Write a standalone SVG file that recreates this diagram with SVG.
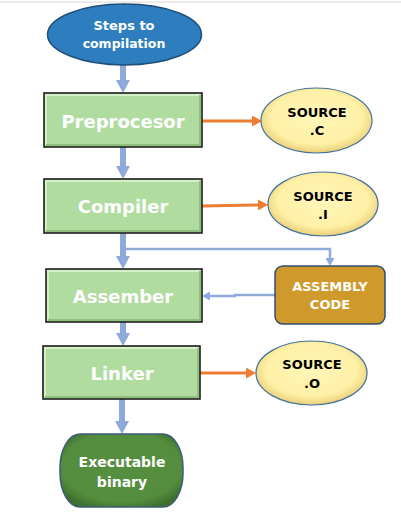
<svg xmlns="http://www.w3.org/2000/svg" width="401" height="526" viewBox="0 0 401 526">
<defs>
<style>
text{font-family:"DejaVu Sans","Verdana",sans-serif;font-weight:bold;text-anchor:middle}
.step{fill:#b0dca0;stroke:#1e1e1e;stroke-width:1.6}
.hi{fill:none;stroke:#d6f0ca;stroke-width:2}
.lo{fill:none;stroke:#8fc07e;stroke-width:2}
.src{fill:url(#yel);stroke:#41719c;stroke-width:1.2}
.wt{fill:#ffffff}
.bk{fill:#000000}
.thick{stroke:#8eaadb;stroke-width:6;fill:none}
.thin{stroke:#8eaadb;stroke-width:2.5;fill:none}
.org{stroke:#ed7d31;stroke-width:3;fill:none}
</style>
<radialGradient id="yel" cx="50%" cy="45%" r="55%">
<stop offset="0" stop-color="#fff6b8"/>
<stop offset="0.75" stop-color="#fff0a6"/>
<stop offset="1" stop-color="#e8cf78"/>
</radialGradient>
<radialGradient id="grn" cx="50%" cy="45%" r="60%">
<stop offset="0" stop-color="#558e3f"/>
<stop offset="0.8" stop-color="#548d3e"/>
<stop offset="1" stop-color="#3f7030"/>
</radialGradient>
<marker id="hb" markerUnits="userSpaceOnUse" markerWidth="14" markerHeight="14" viewBox="0 0 13 14" refX="0" refY="7" orient="auto"><path d="M0,0 L13,7 L0,14 z" fill="#8eaadb"/></marker>
<marker id="ht" markerUnits="userSpaceOnUse" markerWidth="8" markerHeight="9" viewBox="0 0 8 9" refX="0" refY="4.5" orient="auto"><path d="M0,0 L8,4.5 L0,9 z" fill="#8eaadb"/></marker>
<marker id="ho" markerUnits="userSpaceOnUse" markerWidth="10" markerHeight="11" viewBox="0 0 10 11" refX="0" refY="5.5" orient="auto"><path d="M0,0 L10,5.5 L0,11 z" fill="#ed7d31"/></marker>
</defs>
<rect width="401" height="526" fill="#ffffff"/>
<line x1="0" y1="2" x2="401" y2="2" stroke="#e4e4e4" stroke-width="1.5"/>

<g id="connectors">
<line class="thick" x1="123" y1="65" x2="123" y2="80" marker-end="url(#hb)"/>
<line class="thick" x1="123" y1="147" x2="123" y2="166" marker-end="url(#hb)"/>
<line class="thick" x1="123" y1="233" x2="123" y2="256" marker-end="url(#hb)"/>
<line class="thick" x1="123" y1="322" x2="123" y2="333" marker-end="url(#hb)"/>
<line class="thick" x1="122" y1="399" x2="122" y2="421" marker-end="url(#hb)"/>
<path class="thin" d="M123,249 H330 V258" marker-end="url(#ht)"/>
<path class="thin" d="M275,295 H235 V296 H210" marker-end="url(#ht)"/>
<line class="org" x1="202" y1="121" x2="252" y2="121" marker-end="url(#ho)"/>
<line class="org" x1="202" y1="206" x2="258" y2="205" marker-end="url(#ho)"/>
<line class="org" x1="200" y1="373" x2="246" y2="373" marker-end="url(#ho)"/>
</g>

<g id="start">
<ellipse cx="124.5" cy="34.5" rx="77" ry="30.5" fill="#2e7ebf" stroke="#1f4e79" stroke-width="1.5"/>
<text class="wt" x="124" y="30" font-size="13">Steps to</text>
<text class="wt" x="124" y="48" font-size="12.5">compilation</text>
</g>

<g id="preprocesor">
<rect class="step" x="44" y="93" width="158" height="54"/>
<path class="hi" d="M46,145 V95 H200"/>
<path class="lo" d="M200,95 V145 H46"/>
<text class="wt" x="123" y="128" font-size="18">Preprocesor</text>
</g>

<g id="compiler">
<rect class="step" x="44" y="179" width="158" height="54"/>
<path class="hi" d="M46,231 V181 H200"/>
<path class="lo" d="M200,181 V231 H46"/>
<text class="wt" x="123" y="213" font-size="18">Compiler</text>
</g>

<g id="assember">
<rect class="step" x="46" y="269" width="156" height="53"/>
<path class="hi" d="M48,320 V271 H200"/>
<path class="lo" d="M200,271 V320 H48"/>
<text class="wt" x="123" y="303" font-size="18">Assember</text>
</g>

<g id="linker">
<rect class="step" x="43" y="346" width="157" height="53"/>
<path class="hi" d="M45,397 V348 H198"/>
<path class="lo" d="M198,348 V397 H45"/>
<text class="wt" x="122" y="380" font-size="18">Linker</text>
</g>

<g id="executable">
<rect x="60" y="434" width="123" height="73" rx="20" ry="34" fill="url(#grn)" stroke="#3b5c78" stroke-width="1.5"/>
<text class="wt" x="122" y="467" font-size="14">Executable</text>
<text class="wt" x="122" y="487" font-size="14">binary</text>
</g>

<g id="source-c">
<ellipse class="src" cx="316.5" cy="120.5" rx="55.5" ry="32.5"/>
<text class="bk" x="317" y="117" font-size="13">SOURCE</text>
<text class="bk" x="317" y="135" font-size="13">.C</text>
</g>

<g id="source-i">
<ellipse class="src" cx="323" cy="204" rx="55" ry="32"/>
<text class="bk" x="323" y="201" font-size="13">SOURCE</text>
<text class="bk" x="323" y="219" font-size="13">.I</text>
</g>

<g id="assembly-code">
<rect x="275" y="266" width="110" height="58" rx="8" fill="#cf9a2b" stroke="#2f4f6f" stroke-width="1.5"/>
<text class="wt" x="330" y="291" font-size="13">ASSEMBLY</text>
<text class="wt" x="330" y="309" font-size="13">CODE</text>
</g>

<g id="source-o">
<ellipse class="src" cx="311.5" cy="373" rx="55.5" ry="32"/>
<text class="bk" x="312" y="369" font-size="13">SOURCE</text>
<text class="bk" x="312" y="388" font-size="13">.O</text>
</g>
</svg>
